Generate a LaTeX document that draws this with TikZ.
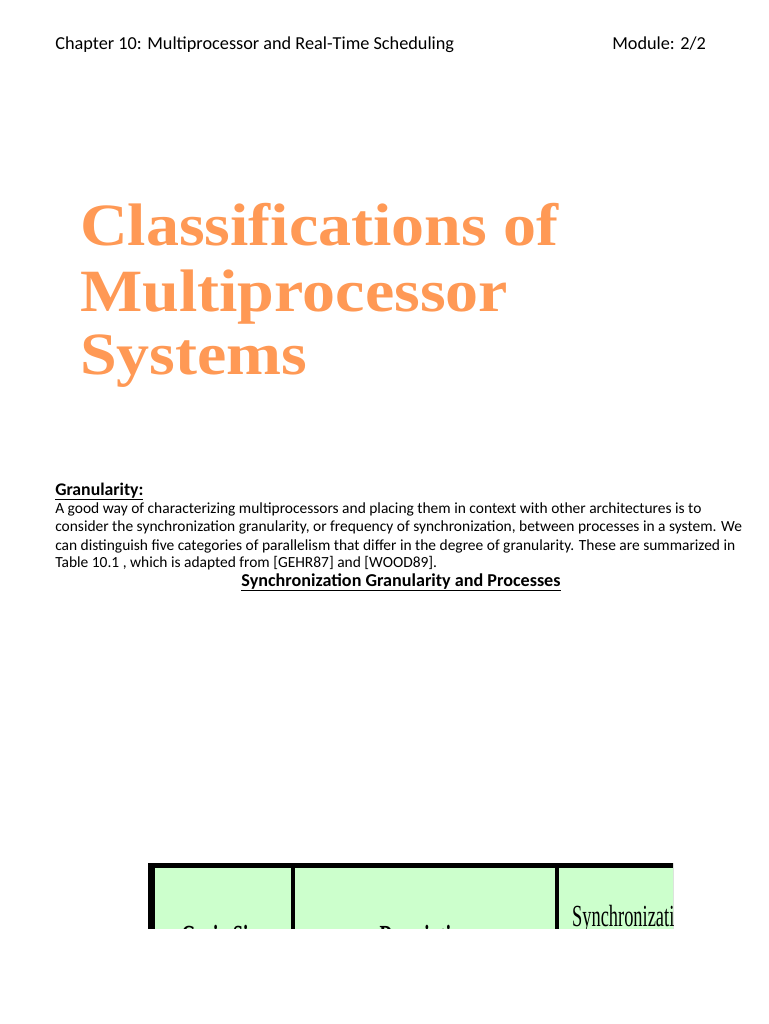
\documentclass[tikz,border=0pt]{standalone}
\usepackage{fontspec}
\setmainfont{Carlito}
\newfontfamily\titlefont{Liberation Serif}
\definecolor{ttl}{HTML}{FF9955}
\definecolor{cellg}{HTML}{CCFFCC}
\begin{document}
\begin{tikzpicture}[x=0.75pt,y=-0.75pt,
  txt/.style={anchor=base west,inner sep=0pt},
  ttlt/.style={txt,font=\titlefont\bfseries\fontsize{45}{45}\selectfont,text=ttl,xscale=1.1},
  body/.style={txt,font=\fontsize{11.6}{13}\selectfont}]
\useasboundingbox (0,0) rectangle (768,1024);
\node[txt,font=\fontsize{13.7}{15}\selectfont] (hdr) at (55,50) {Chapter 10: Multiprocessor and Real-Time Scheduling};
\node[txt,font=\fontsize{13.7}{15}\selectfont] (mod) at (612,50) {Module: 2/2};
\node[ttlt] (t1) at (80,245) {Classifications of};
\node[ttlt] (t2) at (80,311) {Multiprocessor};
\node[ttlt] (t3) at (80,374) {Systems};
\node[txt,font=\bfseries\fontsize{13.3}{15}\selectfont] (gr) at (55,495) {\underline{Granularity:}};
\node[body] (b1) at (55,513) {A good way of characterizing multiprocessors and placing them in context with other architectures is to};
\node[body] (b2) at (55,531) {consider the synchronization granularity, or frequency of synchronization, between processes in a system. We};
\node[body] (b3) at (55,550) {can distinguish five categories of parallelism that differ in the degree of granularity. These are summarized in};
\node[body] (b4) at (55,567) {Table 10.1 , which is adapted from [GEHR87] and [WOOD89].};
\node[txt,anchor=base,font=\bfseries\fontsize{13.6}{15}\selectfont] (st) at (401,586) {\underline{Synchronization Granularity and Processes}};
\begin{scope}
\clip (140,860) rectangle (673,928);
\fill[black] (148,863) rectangle (680,940);
\fill[cellg] (155,868) rectangle (291,940);
\fill[cellg] (295,868) rectangle (555,940);
\fill[cellg] (559,868) rectangle (680,940);
\node[txt,font=\titlefont\fontsize{23}{23}\selectfont,xscale=0.6] (c3) at (572,926) {Synchronization};
\node[txt,anchor=base,font=\titlefont\bfseries\fontsize{23}{23}\selectfont,xscale=0.6] (c1) at (223,946) {Grain Size};
\node[txt,anchor=base,font=\titlefont\bfseries\fontsize{23}{23}\selectfont,xscale=0.6] (c2) at (425,946) {Description};
\end{scope}
\end{tikzpicture}
\end{document}
